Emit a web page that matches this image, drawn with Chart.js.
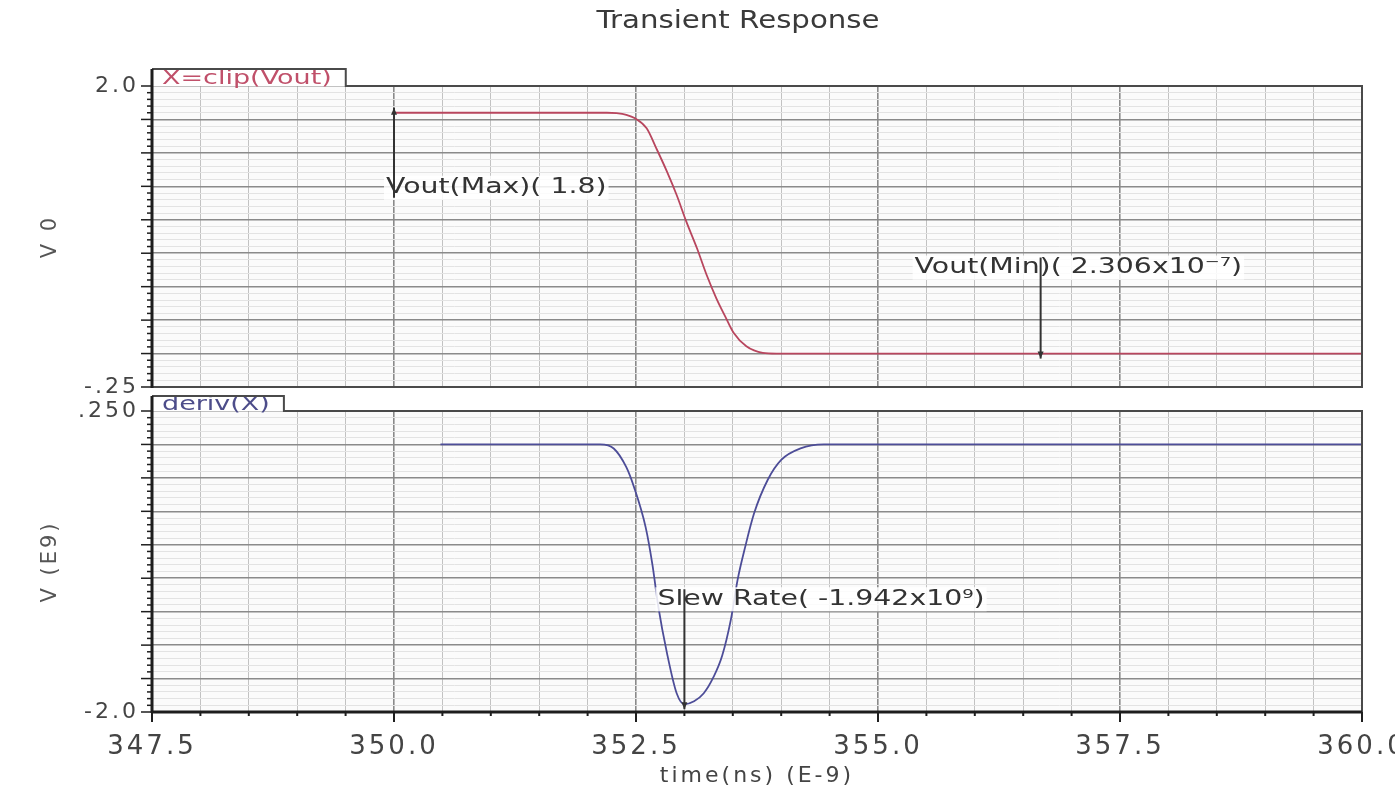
<!DOCTYPE html>
<html>
<head>
<meta charset="utf-8">
<script src="https://cdn.jsdelivr.net/npm/chart.js@4.4.1/dist/chart.umd.min.js"></script>
<style>
  body { margin: 0; background: #fff; }
  #wrap { position: relative; width: 1395px; height: 810px; overflow: hidden; }
  #wrap canvas { position: absolute; left: 0; }
  #topChart { top: 0; }
  #botChart { top: 390px; }
</style>
</head>
<body>
<div id="wrap">
  <canvas id="topChart" width="1395" height="400" style="width:1395px;height:400px"></canvas>
  <canvas id="botChart" width="1395" height="420" style="width:1395px;height:420px"></canvas>
</div>
<script>
// Donnees (temps en ns)
const voutTime = [350.0, 352.20, 352.30, 352.40, 352.49, 352.61, 352.71, 352.82, 352.92, 353.02, 353.13, 353.23, 353.33, 353.42, 353.51, 353.64, 353.81, 353.95, 360.0];
const voutVal  = [1.8, 1.8, 1.797, 1.785, 1.759, 1.684, 1.534, 1.36, 1.185, 0.986, 0.787, 0.587, 0.413, 0.28, 0.153, 0.054, 0.005, 0.0, 0.0];

const derivTime = [350.48, 352.13, 352.27, 352.40, 352.48, 352.60, 352.67, 352.73, 352.82, 352.92, 353.0, 353.10, 353.20, 353.30, 353.39, 353.48, 353.55, 353.63, 353.72, 353.86, 354.0, 354.20, 354.44, 360.0];
const derivVal  = [0, 0, -0.03, -0.17, -0.32, -0.62, -0.90, -1.21, -1.56, -1.86, -1.942, -1.92, -1.86, -1.74, -1.58, -1.31, -1.01, -0.76, -0.515, -0.266, -0.116, -0.03, 0, 0];

const xTickValues = [347.5, 350.0, 352.5, 355.0, 357.5, 360.0];
const xTickLabels = ['347.5', '350.0', '352.5', '355.0', '357.5', '360.0'];
const topYRange = [-0.25, 2.0];
const topYLabels = ['-.25', '2.0'];
const botYRange = [-2.0, 0.25];
const botYLabels = ['-2.0', '.250'];

// Marqueurs
const markerTime  = [350.0, 356.68, 353.0];
const markerValue = [1.8, 2.306e-7, -1.942];
const markerText  = ['Vout(Max)( 1.8)', 'Vout(Min)( 2.306x10\u207B\u2077)', 'Slew Rate( -1.942x10\u2079)'];

// position des etiquettes par rapport au point (px)
const markerLayout = [{ dx: -8, dy: 75 }, { dx: -126, dy: -86 }, { dx: -27, dy: -105 }];

const FONT = '"DejaVu Sans", sans-serif';
const STRETCH = 1.35;   // texte elargi comme sur la capture
const isMajorY = v => Math.abs(v / 0.25 - Math.round(v / 0.25)) < 1e-6;
const isMajorX = v => Math.abs(v / 2.5 - Math.round(v / 2.5)) < 1e-6;

function stepTicks(min, max, step) {
    const out = [];
    const n = Math.round((max - min) / step);
    for (let i = 0; i <= n; i++) out.push({ value: +(min + i * step).toFixed(4) });
    return out;
}

function toPoints(xs, ys) {
    return xs.map((t, i) => ({ x: t, y: ys[i] }));
}

function wideText(ctx, text, x, y, sx) {
    ctx.save();
    ctx.translate(x, y);
    ctx.scale(sx, 1);
    ctx.fillText(text, 0, 0);
    ctx.restore();
}

// Partie decor : cadre, onglet, graduations, marqueurs
const panelDecor = {
    id: 'panelDecor',
    beforeLayout(chart) {
        chart.ctx.letterSpacing = '3px';
    },
    beforeDraw(chart, args, o) {
        const { ctx, chartArea: a } = chart;
        ctx.letterSpacing = '3px';
        ctx.save();
        ctx.fillStyle = '#fbfbfb';
        ctx.fillRect(a.left, a.top, a.right - a.left, a.bottom - a.top);
        ctx.restore();
    },
    afterDatasetsDraw(chart, args, o) {
        const { ctx, chartArea: a } = chart;
        const x = chart.scales.x, y = chart.scales.y;
        ctx.save();
        ctx.letterSpacing = '0px';

        // marqueurs
        ctx.font = '21px ' + FONT;
        o.markers.forEach(i => {
            const px = x.getPixelForValue(markerTime[i]);
            const py = y.getPixelForValue(markerValue[i]);
            const L = markerLayout[i];
            const w = ctx.measureText(markerText[i]).width * STRETCH;
            const lx = px + L.dx, ly = py + L.dy;
            ctx.fillStyle = 'rgba(255,255,255,0.85)';
            ctx.fillRect(lx - 2, ly - 12, w + 4, 24);
            const dir = L.dy > 0 ? -1 : 1;      // direction vers le point
            const ey = ly - dir * 10;
            const tip = py + dir * 5;
            ctx.strokeStyle = '#333';
            ctx.lineWidth = 2;
            ctx.beginPath();
            ctx.moveTo(px, ey);
            ctx.lineTo(px, tip);
            ctx.stroke();
            ctx.fillStyle = '#333';
            ctx.beginPath();
            ctx.moveTo(px, tip);
            ctx.lineTo(px - 3, tip - dir * 7);
            ctx.lineTo(px + 3, tip - dir * 7);
            ctx.closePath();
            ctx.fill();
            ctx.textBaseline = 'middle';
            wideText(ctx, markerText[i], lx, ly, STRETCH);
        });

        // onglet
        ctx.font = '20px ' + FONT;
        const label = chart.data.datasets[0].label;
        const tw = ctx.measureText(label).width * STRETCH + 24;
        const th = o.tabHeight;
        ctx.fillStyle = '#ffffff';
        ctx.fillRect(a.left, a.top - th, tw, th);
        ctx.fillStyle = o.tabColor;
        ctx.textBaseline = 'middle';
        wideText(ctx, label, a.left + 10, a.top - th / 2 + 1, STRETCH);

        // cadre
        ctx.strokeStyle = '#4a4a4a';
        ctx.lineWidth = 2;
        ctx.beginPath();
        ctx.moveTo(a.left, a.top - th);
        ctx.lineTo(a.left + tw, a.top - th);
        ctx.lineTo(a.left + tw, a.top);
        ctx.lineTo(a.right, a.top);
        ctx.lineTo(a.right, a.bottom);
        ctx.lineTo(a.left, a.bottom);
        ctx.stroke();

        // axe vertical
        ctx.strokeStyle = '#1e1e1e';
        ctx.lineWidth = 3;
        ctx.beginPath();
        ctx.moveTo(a.left, a.top - th);
        ctx.lineTo(a.left, a.bottom + 1);
        ctx.stroke();
        ctx.lineWidth = 1.5;
        y.ticks.forEach(t => {
            const py = y.getPixelForValue(t.value);
            const len = isMajorY(t.value) ? 11 : 5;
            ctx.beginPath();
            ctx.moveTo(a.left - len, py);
            ctx.lineTo(a.left, py);
            ctx.stroke();
        });

        // axe horizontal (panneau du bas)
        if (o.xTicks) {
            ctx.lineWidth = 3;
            ctx.beginPath();
            ctx.moveTo(a.left, a.bottom);
            ctx.lineTo(a.right, a.bottom);
            ctx.stroke();
            ctx.lineWidth = 2;
            x.ticks.forEach(t => {
                const px = x.getPixelForValue(t.value);
                const len = isMajorX(t.value) ? 10 : 4;
                ctx.beginPath();
                ctx.moveTo(px, a.bottom);
                ctx.lineTo(px, a.bottom + len);
                ctx.stroke();
            });
        }

        // titre
        if (o.title) {
            ctx.fillStyle = '#3a3a3a';
            ctx.font = '25px ' + FONT;
            ctx.textAlign = 'center';
            ctx.textBaseline = 'middle';
            wideText(ctx, o.title, 738, 21, 1.17);
        }
        ctx.restore();
    }
};

function xAxis(showLabels) {
    return {
        type: 'linear',
        min: xTickValues[0],
        max: xTickValues[xTickValues.length - 1],
        afterBuildTicks: s => { s.ticks = stepTicks(s.min, s.max, 0.5); },
        afterFit: s => {
            s.height = showLabels ? 98 : 0;
            s.paddingLeft = 0;
            s.paddingRight = 0;
        },
        ticks: {
            display: showLabels,
            autoSkip: false,
            maxRotation: 0,
            padding: 20,
            color: '#444',
            font: { family: FONT, size: 26 },
            callback: v => {
                const k = xTickValues.findIndex(t => Math.abs(t - v) < 1e-6);
                return k >= 0 ? xTickLabels[k] : '';
            }
        },
        grid: {
            drawTicks: false,
            color: c => isMajorX(c.tick.value) ? '#8a8a8a' : '#c2c2c2',
            lineWidth: c => isMajorX(c.tick.value) ? 1.6 : 1
        },
        border: { display: false },
        title: {
            display: showLabels,
            text: 'time(ns) (E-9)',
            color: '#444',
            font: { family: FONT, size: 22 },
            padding: { top: 0, bottom: 21 }
        }
    };
}

function yAxis(range, labels, title) {
    return {
        type: 'linear',
        min: range[0],
        max: range[1],
        afterBuildTicks: s => { s.ticks = stepTicks(range[0], range[1], 0.05); },
        afterFit: s => {
            s.width = 152;
            s.paddingTop = 0;
            s.paddingBottom = 0;
        },
        ticks: {
            autoSkip: false,
            padding: 13,
            color: '#444',
            font: { family: FONT, size: 22 },
            callback: v => Math.abs(v - range[1]) < 1e-6 ? labels[1] : (Math.abs(v - range[0]) < 1e-6 ? labels[0] : '')
        },
        grid: {
            drawTicks: false,
            color: c => isMajorY(c.tick.value) ? '#8a8a8a' : '#e3e3e3',
            lineWidth: c => isMajorY(c.tick.value) ? 1.6 : 1
        },
        border: { display: false },
        title: {
            display: true,
            text: title,
            color: '#555',
            font: { family: FONT, size: 21 },
            padding: { top: 38, bottom: 0 }
        }
    };
}

function initPanel(canvasId, label, xs, ys, color, yRange, yLabels, yTitle, padding, decor, showX) {
    const ctx = document.getElementById(canvasId).getContext('2d');
    return new Chart(ctx, {
        type: 'line',
        data: {
            datasets: [{
                label: label,
                data: toPoints(xs, ys),
                borderColor: color,
                borderWidth: 1.8,
                pointRadius: 0,
                fill: false,
                cubicInterpolationMode: 'monotone'
            }]
        },
        options: {
            responsive: false,
            animation: false,
            layout: { padding: padding },
            plugins: {
                legend: { display: false },
                tooltip: { enabled: false },
                panelDecor: decor
            },
            scales: {
                x: xAxis(showX),
                y: yAxis(yRange, yLabels, yTitle)
            }
        },
        plugins: [panelDecor]
    });
}

initPanel('topChart', 'X=clip(Vout)', voutTime, voutVal, '#b8465e', topYRange, topYLabels, 'V 0',
    { left: 0, right: 33, top: 86, bottom: 13 },
    { tabHeight: 17, tabColor: '#c0506a', markers: [0, 1], xTicks: false, title: 'Transient Response' },
    false);

initPanel('botChart', 'deriv(X)', derivTime, derivVal, '#4d4d98', botYRange, botYLabels, 'V (E9)',
    { left: 0, right: 33, top: 21, bottom: 0 },
    { tabHeight: 15, tabColor: '#4d4d8a', markers: [2], xTicks: true, title: null },
    true);
</script>
</body>
</html>
